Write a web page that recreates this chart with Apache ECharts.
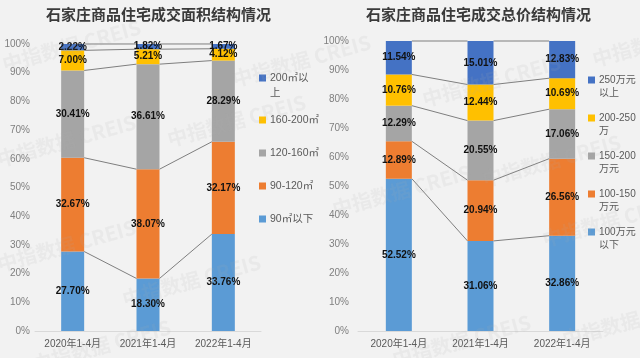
<!DOCTYPE html>
<html><head><meta charset="utf-8">
<script src="https://cdn.jsdelivr.net/npm/echarts@6/dist/echarts.min.js"></script>
<style>html,body{margin:0;padding:0;background:#f2f2f2}#c{width:640px;height:358px}</style>
</head><body><div id="c"></div>
<script>
// ---- data ----
const categories = ['2020年1-4月', '2021年1-4月', '2022年1-4月'];

const areaNames = ['90㎡以下', '90-120㎡', '120-160㎡', '160-200㎡', '200㎡以上'];
const area_lt90 = [27.70, 18.30, 33.76];
const area_90_120 = [32.67, 38.07, 32.17];
const area_120_160 = [30.41, 36.61, 28.29];
const area_160_200 = [7.00, 5.21, 4.12];
const area_gt200 = [2.22, 1.82, 1.67];

const priceNames = ['100万元以下', '100-150万元', '150-200万元', '200-250万', '250万元以上'];
const price_lt100 = [52.52, 31.06, 32.86];
const price_100_150 = [12.89, 20.94, 26.56];
const price_150_200 = [12.29, 20.55, 17.06];
const price_200_250 = [10.76, 12.44, 10.69];
const price_gt250 = [11.54, 15.01, 12.83];

const yMin = 0, yMax = 100, yStep = 10;

// ---- styles ----
const colors = ['#5B9BD5', '#ED7D31', '#A5A5A5', '#FFC000', '#4472C4'];
const numFont = '"Liberation Sans", Arial, sans-serif';
const cjkFont = '"Liberation Sans", "Noto Sans CJK SC", sans-serif';

const areaVals = [area_lt90, area_90_120, area_120_160, area_160_200, area_gt200];
const priceVals = [price_lt100, price_100_150, price_150_200, price_200_250, price_gt250];

const legendDisplay = {
  '200㎡以上': '200㎡以\n上',
  '250万元以上': '250万元\n以上',
  '200-250万': '200-250\n万',
  '150-200万元': '150-200\n万元',
  '100-150万元': '100-150\n万元',
  '100万元以下': '100万元\n以下'
};

function barSeries(names, vals, xi, bw) {
  return names.map((n, k) => ({
    name: n, type: 'bar', stack: 's' + xi, xAxisIndex: xi, yAxisIndex: xi,
    barWidth: bw, z: 3,
    itemStyle: { color: colors[k] },
    label: {
      show: true, position: 'inside',
      formatter: p => p.value.toFixed(2) + '%',
      color: '#111', fontWeight: 'bold', fontSize: 10, fontFamily: numFont
    },
    data: vals[k]
  }));
}

function connector(vals, xi, bw) {
  return {
    type: 'custom', xAxisIndex: xi, yAxisIndex: xi, silent: true, z: 1,
    data: [[0, 1], [1, 2]],
    renderItem(params, api) {
      const a = api.value(0), b = api.value(1);
      const children = [];
      let ca = 0, cb = 0;
      for (const arr of vals) {
        ca += arr[a]; cb += arr[b];
        const p1 = api.coord([a, ca]);
        const p2 = api.coord([b, cb]);
        children.push({
          type: 'line',
          shape: { x1: p1[0] + bw / 2, y1: p1[1], x2: p2[0] - bw / 2, y2: p2[1] },
          style: { stroke: '#7f7f7f', lineWidth: 1 }
        });
      }
      return { type: 'group', children };
    }
  };
}

function xAxis(gi) {
  return {
    type: 'category', gridIndex: gi, data: categories,
    axisLine: { lineStyle: { color: '#d9d9d9' } },
    axisTick: { show: false },
    axisLabel: { color: '#595959', fontSize: 10, margin: 8, fontFamily: cjkFont }
  };
}
function yAxis(gi, margin) {
  return {
    type: 'value', gridIndex: gi, min: yMin, max: yMax, interval: yStep,
    splitLine: { show: false }, axisLine: { show: false }, axisTick: { show: false },
    axisLabel: { formatter: '{value}%', color: '#7f7f7f', fontSize: 10, margin: margin, fontFamily: numFont }
  };
}

function legend(names, left, top, gap, lh, fs) {
  return {
    data: names, orient: 'vertical', left: left, top: top, padding: 0,
    itemWidth: 7, itemHeight: 7, itemGap: gap, icon: 'rect',
    formatter: n => legendDisplay[n] ? ' \n' + legendDisplay[n] : n,
    textStyle: { color: '#595959', fontSize: fs, lineHeight: lh, fontFamily: cjkFont, padding: [0, 0, 0, -1] }
  };
}

const wm = [];
const wmPos = [[0, 55], [-5, 150], [-5, 255], [30, 355], [120, 290], [165, 130], [230, 70], [330, 200], [420, 90], [390, 350], [540, 230], [560, 330], [590, 50], [480, 170]];
wmPos.forEach(p => wm.push({
  type: 'text', x: p[0], y: p[1], rotation: 0.27, z: 100, silent: true,
  style: { text: '中指数据 CREIS', fill: 'rgba(170,170,170,0.12)', font: 'bold 20px "Noto Sans CJK SC", sans-serif' }
}));

const chart = echarts.init(document.getElementById('c'));
chart.setOption({
  backgroundColor: '#f2f2f2',
  animation: false,
  title: [
    { text: '石家庄商品住宅成交面积结构情况', left: 46, top: 7, padding: 0,
      textStyle: { fontSize: 15, fontWeight: 'bold', color: '#3a3a3a', fontFamily: '"Noto Sans CJK SC", sans-serif' } },
    { text: '石家庄商品住宅成交总价结构情况', left: 366, top: 7, padding: 0,
      textStyle: { fontSize: 15, fontWeight: 'bold', color: '#3a3a3a', fontFamily: '"Noto Sans CJK SC", sans-serif' } }
  ],
  legend: [
    legend(['200㎡以上'], 259, 55.5, 0, 15, 10.5),
    legend(['160-200㎡', '120-160㎡', '90-120㎡', '90㎡以下'], 259, 112.5, 18, 15, 10.5),
    legend(['250万元以上', '200-250万', '150-200万元', '100-150万元', '100万元以下'], 588, 60.5, -1, 13, 10)
  ],
  grid: [
    { left: 35, top: 44, width: 226, height: 287 },
    { left: 358, top: 41, width: 245, height: 290 }
  ],
  xAxis: [xAxis(0), xAxis(1)],
  yAxis: [yAxis(0, 5), yAxis(1, 9)],
  series: [
    ...barSeries(areaNames, areaVals, 0, 23),
    connector(areaVals, 0, 23),
    ...barSeries(priceNames, priceVals, 1, 26),
    connector(priceVals, 1, 26)
  ],
  graphic: wm
});
</script></body></html>
